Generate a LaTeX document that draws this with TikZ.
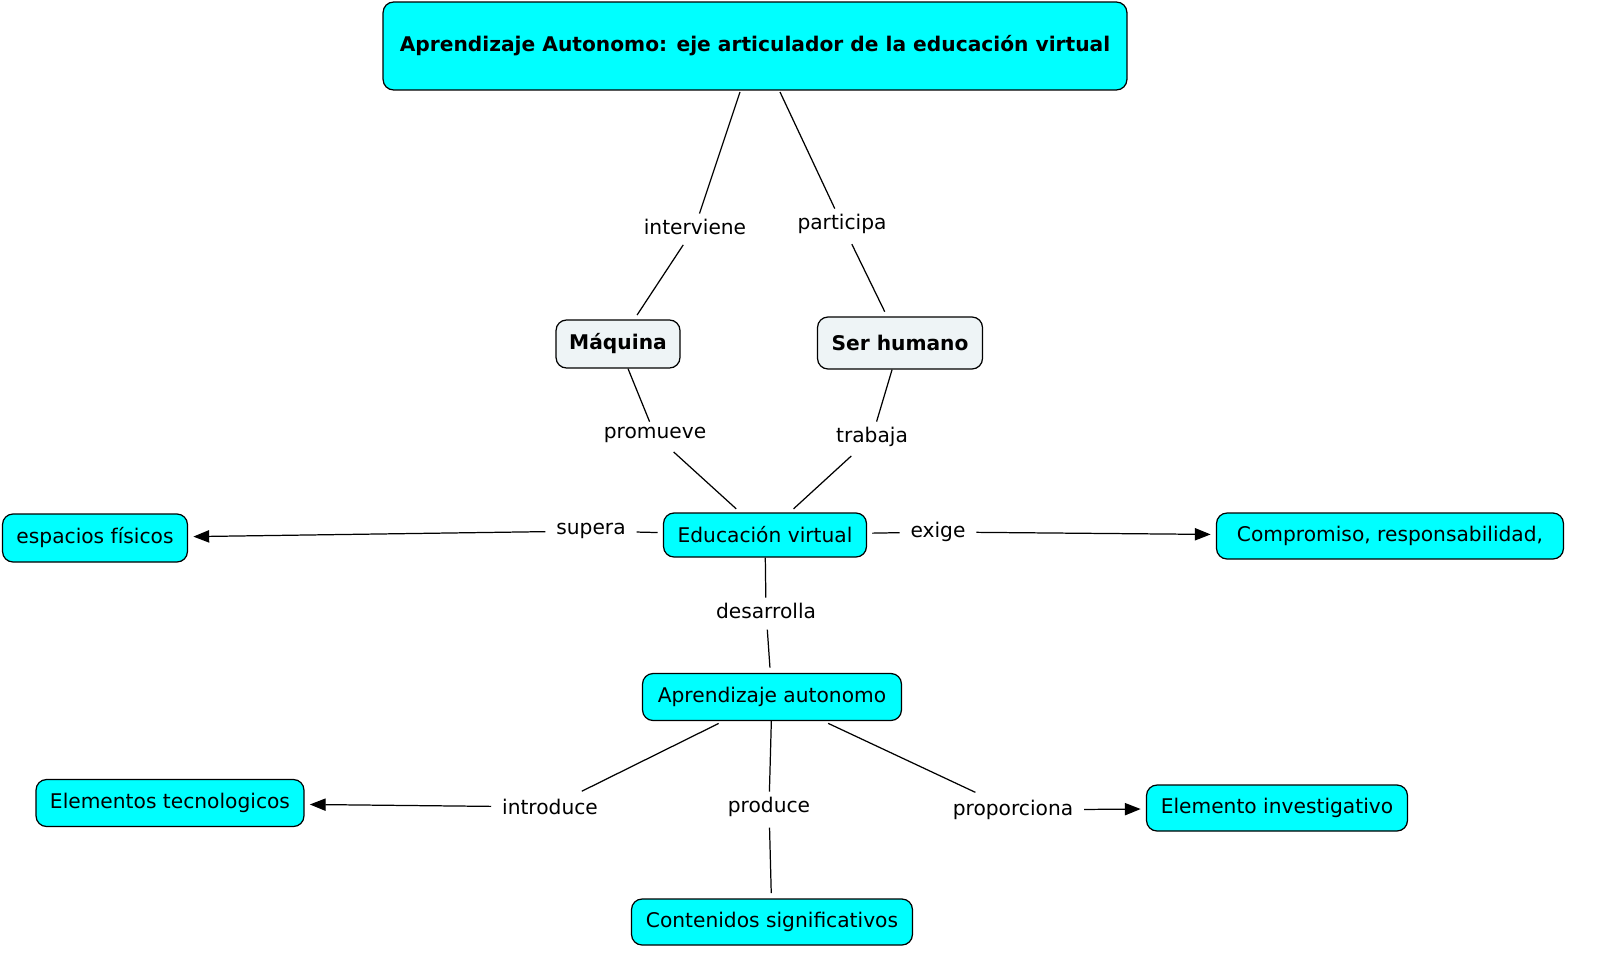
\documentclass[tikz,border=0pt]{standalone}
\usepackage{fontspec}
\setmainfont{DejaVu Sans}
\usetikzlibrary{arrows.meta,positioning}
\definecolor{aqua}{RGB}{0,255,255}
\definecolor{paleblue}{RGB}{238,244,246}

\tikzset{
  concept/.style={draw, line width=0.7pt, rounded corners=6pt, fill=aqua, font=\fontsize{11.5}{13}\selectfont, inner sep=0pt},
  pale/.style={concept, fill=paleblue, font=\fontsize{11.5}{13}\selectfont\bfseries},
  link/.style={font=\fontsize{11.5}{13}\selectfont, inner sep=3pt},
  line/.style={line width=0.7pt, shorten <=3pt, shorten >=3pt},
  arrow/.style={line, -{Triangle[length=9pt,width=7pt]}}
}

\begin{document}
\begin{tikzpicture}[x=0.02cm, y=-0.02cm]
\useasboundingbox (0,0) rectangle (1600,970);
% concepts
\node[concept, font=\fontsize{11.5}{13}\selectfont\bfseries, minimum width=14.88cm, minimum height=1.76cm] (title) at (755,46) {Aprendizaje Autonomo: eje articulador de la educación virtual};
\node[pale, minimum width=2.48cm, minimum height=0.96cm] (maquina) at (618,344) {Máquina};
\node[pale, minimum width=3.3cm, minimum height=1.04cm] (humano) at (900,343) {Ser humano};
\node[concept, minimum width=4.06cm, minimum height=0.88cm] (edu) at (765,535) {Educación virtual};
\node[concept, minimum width=3.7cm, minimum height=0.96cm] (espacios) at (95,538) {espacios físicos};
\node[concept, minimum width=6.94cm, minimum height=0.92cm] (compromiso) at (1390,536) {Compromiso, responsabilidad,};
\node[concept, minimum width=5.18cm, minimum height=0.94cm] (aprend) at (772,697) {Aprendizaje autonomo};
\node[concept, minimum width=5.36cm, minimum height=0.94cm] (elementos) at (170,803) {Elementos tecnologicos};
\node[concept, minimum width=5.22cm, minimum height=0.92cm] (investig) at (1277,808) {Elemento investigativo};
\node[concept, minimum width=5.62cm, minimum height=0.92cm] (contenidos) at (772,922) {Contenidos significativos};
% linking phrases
\node[link] (interviene) at (695,227) {interviene};
\node[link] (participa) at (842,224) {participa};
\node[link] (promueve) at (655,435) {promueve};
\node[link] (trabaja) at (872,437) {trabaja};
\node[link] (supera) at (591,531) {supera};
\node[link] (exige) at (938,532) {exige};
\node[link] (desarrolla) at (766,611) {desarrolla};
\node[link] (introduce) at (550,807) {introduce};
\node[link] (produce) at (769,807) {produce};
\node[link] (proporciona) at (1013,810) {proporciona};
% connectors
\coordinate (t1) at (740,92);
\coordinate (t2) at (780,92);
\draw[line] (t1) -- (interviene) -- (maquina);
\draw[line] (t2) -- (participa) -- (humano);
\draw[line] (maquina) -- (promueve) -- (edu);
\draw[line] (humano) -- (trabaja) -- (edu);
\draw[line] (edu) -- (supera);
\draw[arrow] (supera) -- (espacios);
\draw[line] (edu) -- (exige);
\draw[arrow] (exige) -- (compromiso);
\draw[line] (edu) -- (desarrolla) -- (aprend);
\draw[line] (aprend) -- (introduce);
\draw[arrow] (introduce) -- (elementos);
\draw[line] (aprend) -- (produce) -- (contenidos);
\draw[line] (aprend) -- (proporciona);
\draw[arrow] (proporciona) -- (investig);
\end{tikzpicture}
\end{document}
